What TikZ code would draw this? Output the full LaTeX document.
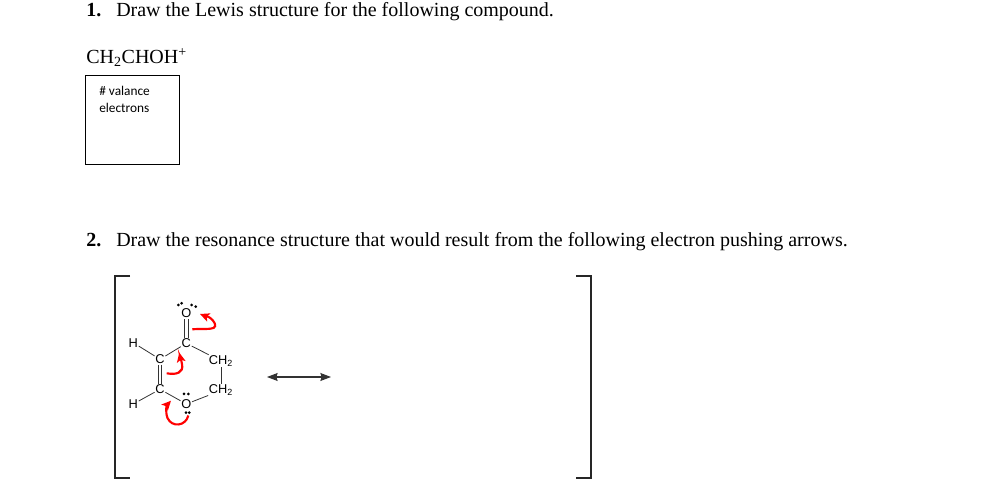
\documentclass[tikz,border=0pt]{standalone}
\usepackage{fontspec}
\setmainfont{Liberation Serif}
\newfontfamily\boxfont{Carlito}
\newfontfamily\atomfont{Liberation Sans}
\usetikzlibrary{arrows.meta}
\begin{document}
\begin{tikzpicture}[x=0.75pt,y=-0.75pt,
  question/.style={anchor=base west,inner sep=0pt,font=\fontsize{15}{17}\selectfont},
  atom/.style={inner sep=0.4pt,font=\atomfont\fontsize{9.6}{10}\selectfont},
  bond/.style={line width=0.6pt,black!80},
  push/.style={-{Stealth[length=7pt,width=6.5pt,inset=1.5pt]},red,line width=1.6pt},
  bracket/.style={line width=0.9pt,black!85},
  boxtext/.style={anchor=base west,inner sep=0pt,font=\boxfont\fontsize{10}{12}\selectfont}]
\useasboundingbox (0,0) rectangle (982,498);
% questions
\node[question] (numone) at (86,16.5) {\textbf{1.}};
\node[question] (textone) at (116,16.5) {Draw the Lewis structure for the following compound.};
\node[question] (formula) at (86,63.5) {CH\textsubscript{2}CHOH\textsuperscript{+}};
\node[question] (numtwo) at (86,246.5) {\textbf{2.}};
\node[question] (texttwo) at (116,246.5) {Draw the resonance structure that would result from the following electron pushing arrows.};
% box
\node[draw,line width=0.6pt,minimum width=70.5pt,minimum height=67pt,inner sep=0pt] (valbox) at (132.8,119.8) {};
\node[boxtext] (valone) at (99,96) {\# valance};
\node[boxtext] (valtwo) at (99,113) {electrons};
% molecule
\node[atom] (otop) at (186.3,313.3) {O};
\node[atom] (ctop) at (186.3,343.3) {C};
\node[atom] (cup) at (160,359.3) {C};
\node[atom] (clow) at (160,389.3) {C};
\node[atom] (obot) at (186.3,404) {O};
\node[atom] (chup) at (221,361) {CH\textsubscript{2}};
\node[atom] (chlow) at (221,390.5) {CH\textsubscript{2}};
\node[atom] (hup) at (133.3,342.7) {H};
\node[atom] (hlow) at (133.3,404) {H};
\draw[bond,double,double distance=2.2pt] (ctop) -- (otop);
\draw[bond,double,double distance=2.2pt] (cup) -- (clow);
\draw[bond] (ctop) -- (cup);
\draw[bond] (ctop) -- (chup);
\draw[bond] (chup) -- (chlow);
\draw[bond] (chlow) -- (obot);
\draw[bond] (obot) -- (clow);
\draw[bond] (hup) -- (cup);
\draw[bond] (hlow) -- (clow);
% lone pairs
\foreach \x/\y in {178.3/305,181.7/303.3,191.7/305,195.7/306.7,184/394,188.3/394,186/412.7,189.3/412.7}
  \fill (\x,\y) circle (1.5);
% electron pushing
\coordinate (pushonea) at (192.3,329.3);
\coordinate (pushoneb) at (200,314);
\coordinate (pushtwoa) at (166.7,373.3);
\coordinate (pushtwob) at (179.3,352.7);
\coordinate (pushthreea) at (188.3,415.5);
\coordinate (pushthreeb) at (171,400.7);
\draw[push] (pushonea) .. controls (205,328) and (222,332) .. (212.5,320) .. controls (209,316) and (205,316) .. (pushoneb);
\draw[push] (pushtwoa) .. controls (176,375) and (184,373) .. (182,364) .. controls (181,359) and (180,356) .. (pushtwob);
\draw[push] (pushthreea) .. controls (186,426) and (172,428) .. (167.5,418) .. controls (165,411) and (167,405) .. (pushthreeb);
% brackets and arrow
\coordinate (lefta) at (130,276);
\coordinate (leftb) at (115,276);
\coordinate (leftc) at (115,478);
\coordinate (leftd) at (130,478);
\coordinate (righta) at (576,276);
\coordinate (rightb) at (591,276);
\coordinate (rightc) at (591,478);
\coordinate (rightd) at (576,478);
\draw[bracket] (lefta) -- (leftb) -- (leftc) -- (leftd);
\draw[bracket] (righta) -- (rightb) -- (rightc) -- (rightd);
\coordinate (resa) at (267,377);
\coordinate (resb) at (331,377);
\draw[{Stealth[length=8pt,width=6pt,inset=1pt]}-{Stealth[length=8pt,width=6pt,inset=1pt]},line width=0.8pt,black!80] (resa) -- (resb);
\end{tikzpicture}
\end{document}
